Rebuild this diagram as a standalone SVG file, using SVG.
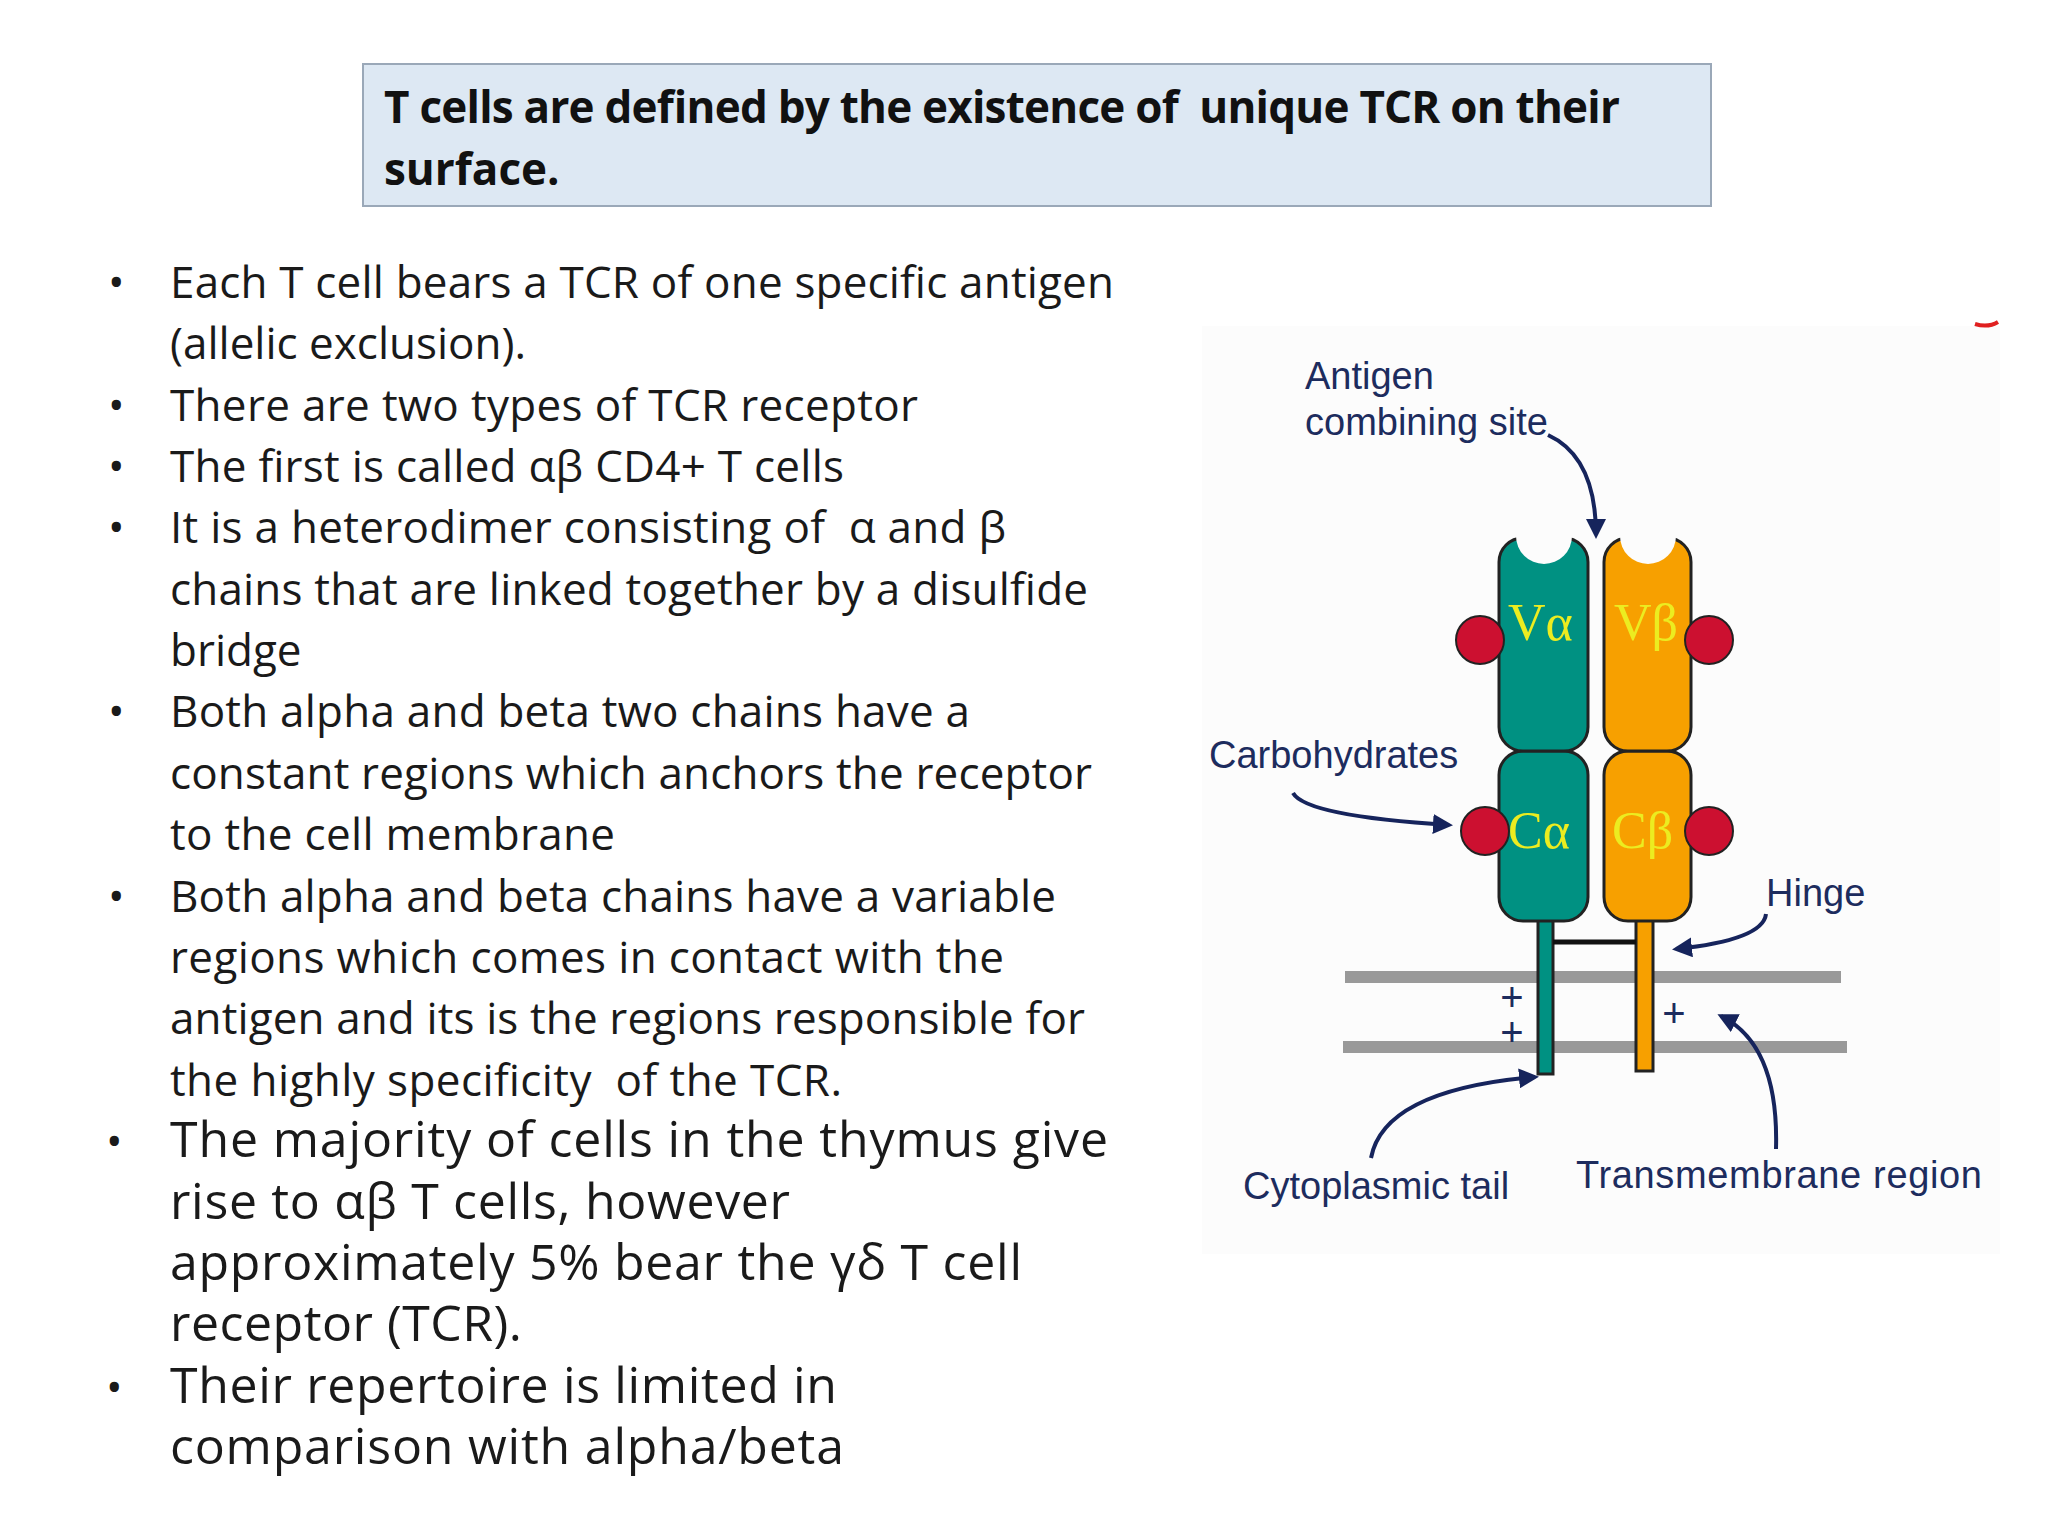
<svg xmlns="http://www.w3.org/2000/svg" width="2048" height="1536" viewBox="0 0 2048 1536">
<style>
.t{font-family:"Open Sans","Noto Sans",sans-serif;fill:#1a1a1a}
.s{font-size:44px}.b{font-size:50px}
.lab{font-family:"Liberation Sans",Arial,sans-serif;font-size:38px;fill:#1d2c5e}
.gr{font-family:"Liberation Serif",serif;font-size:52px;fill:#ecec20}
.arr{fill:none;stroke:#16245c;stroke-width:4;marker-end:url(#ah)}
</style>
<defs><marker id="ah" viewBox="0 0 10 10" refX="8" refY="5" markerWidth="5" markerHeight="5" orient="auto"><path d="M0,0L10,5L0,10z" fill="#16245c"/></marker></defs>
<rect width="2048" height="1536" fill="#fff"/>
<g id="title">
<rect x="363" y="64" width="1348" height="142" fill="#dde8f3" stroke="#9aa8b8" stroke-width="2"/>
<text x="384" y="123" font-family="'Open Sans',sans-serif" font-weight="bold" font-size="44" fill="#111" textLength="1236">T cells are defined by the existence of&#160; unique TCR on their</text>
<text x="384" y="185" font-family="'Open Sans',sans-serif" font-weight="bold" font-size="44" fill="#111">surface.</text>
</g>
<g id="bullets" class="t">
<g class="s">
<text x="108" y="298">•</text><text x="170" y="298" textLength="944">Each T cell bears a TCR of one specific antigen</text>
<text x="170" y="359">(allelic exclusion).</text>
<text x="108" y="421">•</text><text x="170" y="421" textLength="748">There are two types of TCR receptor</text>
<text x="108" y="482">•</text><text x="170" y="482" textLength="674">The first is called αβ CD4+ T cells</text>
<text x="108" y="543">•</text><text x="170" y="543" textLength="836">It is a heterodimer consisting of&#160; α and β</text>
<text x="170" y="605" textLength="918">chains that are linked together by a disulfide</text>
<text x="170" y="666">bridge</text>
<text x="108" y="727">•</text><text x="170" y="727" textLength="800">Both alpha and beta two chains have a</text>
<text x="170" y="789" textLength="922">constant regions which anchors the receptor</text>
<text x="170" y="850" textLength="445">to the cell membrane</text>
<text x="108" y="912">•</text><text x="170" y="912" textLength="886">Both alpha and beta chains have a variable</text>
<text x="170" y="973" textLength="834">regions which comes in contact with the</text>
<text x="170" y="1034" textLength="915">antigen and its is the regions responsible for</text>
<text x="170" y="1096" textLength="672">the highly specificity&#160; of the TCR.</text>
</g>
<g class="b">
<text x="106" y="1157" font-size="44">•</text><text x="170" y="1157" textLength="938">The majority of cells in the thymus give</text>
<text x="170" y="1219" textLength="620">rise to αβ T cells, however</text>
<text x="170" y="1280" textLength="852">approximately 5% bear the γδ T cell</text>
<text x="170" y="1341" textLength="352">receptor (TCR).</text>
<text x="106" y="1403" font-size="44">•</text><text x="170" y="1403" textLength="667">Their repertoire is limited in</text>
<text x="170" y="1464" textLength="674">comparison with alpha/beta</text>
</g>
</g>
<rect x="1202" y="326" width="798" height="928" fill="#fcfcfc"/>
<path d="M1975,324 Q1988,328 1998,322" stroke="#e02020" stroke-width="4" fill="none"/>
<g id="membrane">
<rect x="1345" y="971" width="496" height="12" fill="#999"/>
<rect x="1343" y="1041" width="504" height="12" fill="#999"/>
</g>
<g id="alpha-chain" stroke="#222" stroke-width="3">
<rect x="1538" y="919" width="15" height="155" fill="#009182"/>
<rect x="1499" y="751" width="89" height="170" rx="24" fill="#009182"/>
<rect x="1499" y="538" width="89" height="213" rx="24" fill="#009182"/>
<circle cx="1544" cy="536" r="28" fill="#fcfcfc" stroke="none"/>
</g>
<g id="beta-chain" stroke="#222" stroke-width="3">
<rect x="1636" y="919" width="17" height="152" fill="#f7a000"/>
<rect x="1604" y="751" width="87" height="170" rx="24" fill="#f7a000"/>
<rect x="1604" y="538" width="87" height="213" rx="24" fill="#f7a000"/>
<circle cx="1648" cy="536" r="28" fill="#fcfcfc" stroke="none"/>
</g>
<g id="hinge-bond"><path d="M1553,942H1636" stroke="#111" stroke-width="5"/></g>
<g id="carbs" fill="#cc1030" stroke="#222" stroke-width="2">
<circle cx="1480" cy="640" r="24"/><circle cx="1709" cy="640" r="24"/>
<circle cx="1485" cy="831" r="24"/><circle cx="1709" cy="831" r="24"/>
</g>
<g id="domain-labels">
<text class="gr" x="1508" y="640">Vα</text>
<text class="gr" x="1614" y="640">Vβ</text>
<text class="gr" x="1508" y="848">Cα</text>
<text class="gr" x="1612" y="848">Cβ</text>
</g>
<g id="charges" font-family="'Liberation Sans',sans-serif" font-size="40" fill="#1d2c5e" text-anchor="middle">
<text x="1512" y="1011">+</text><text x="1512" y="1046">+</text><text x="1674" y="1027">+</text>
</g>
<g id="labels" class="lab">
<text x="1305" y="389">Antigen</text>
<text x="1305" y="435">combining site</text>
<text x="1209" y="768">Carbohydrates</text>
<text x="1766" y="906">Hinge</text>
<text x="1243" y="1199">Cytoplasmic tail</text>
<text x="1576" y="1188" textLength="406">Transmembrane region</text>
</g>
<g id="connectors">
<path class="arr" d="M1548,435 Q1596,457 1596,535"/>
<path class="arr" d="M1293,793 Q1306,816 1449,825"/>
<path class="arr" d="M1766,914 Q1763,940 1676,949"/>
<path class="arr" d="M1371,1158 Q1384,1090 1535,1077"/>
<path class="arr" d="M1776,1149 Q1779,1045 1721,1016"/>
</g>
</svg>
